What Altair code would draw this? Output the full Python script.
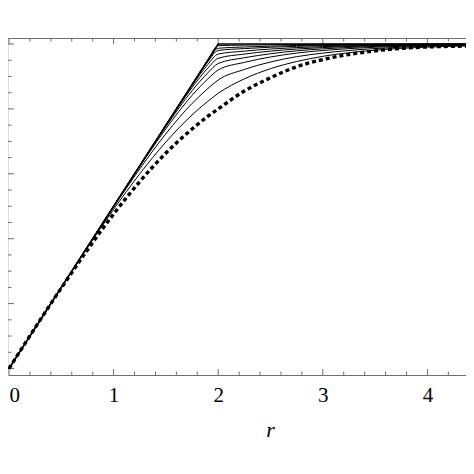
import altair as alt
import pandas as pd

# ---- data ----
r_grid = [0, 0.5, 1, 1.25, 1.5, 1.75, 1.9, 2, 2.25, 2.5, 2.75, 3, 3.5, 4, 4.5]

thin_1 = [0, .25, .5, .625, .75, .875, .95, .995, .9965, .9975, .9985, .999, .9995, 1, 1]
thin_2 = [0, .25, .5, .625, .75, .875, .948, .987, .9908, .9935, .9954, .9968, .9984, .9992, .9996]
thin_3 = [0, .25, .5, .625, .75, .8744, .9444, .98, .9859, .990, .9929, .995, .9975, .9988, .9994]
thin_4 = [0, .25, .5, .625, .7498, .8717, .9363, .969, .978, .9845, .989, .992, .996, .998, .999]
thin_5 = [0, .25, .5, .625, .7487, .8659, .9253, .956, .969, .978, .9845, .989, .9945, .9973, .9986]
thin_6 = [0, .25, .5, .6242, .7456, .8561, .9108, .94, .9576, .97, .979, .985, .9925, .996, .998]
thin_7 = [0, .25, .4995, .6221, .7388, .8417, .8922, .92, .9434, .96, .972, .98, .99, .995, .9975]
thin_8 = [0, .25, .4971, .6151, .7234, .8168, .8625, .889, .9215, .9445, .961, .972, .986, .993, .9965]
thin_9 = [0, .2495, .4902, .5999, .698, .7813, .8232, .848, .8925, .924, .946, .962, .981, .9905, .995]
dashed_y = [0, .248, .476, .576, .664, .738, .777, .80, .855, .896, .93, .952, .979, .991, .994]

sharp_r = [0, 2, 4.5]
sharp_y = [0, 1, 1]

x_major = [0, 1, 2, 3, 4]
x_minor = [0.2, 0.4, 0.6, 0.8, 1.2, 1.4, 1.6, 1.8, 2.2, 2.4, 2.6, 2.8,
           3.2, 3.4, 3.6, 3.8, 4.2, 4.4]
y_major = [0, 0.2, 0.4, 0.6, 0.8, 1.0]
y_minor = [0.05, 0.1, 0.15, 0.25, 0.3, 0.35, 0.45, 0.5, 0.55, 0.65, 0.7, 0.75,
           0.85, 0.9, 0.95]

# ---- tables ----
thin_sets = [thin_1, thin_2, thin_3, thin_4, thin_5, thin_6, thin_7, thin_8, thin_9]
thin_df = pd.DataFrame([
    {"r": r, "y": y, "curve": f"c{i}"}
    for i, ys_ in enumerate(thin_sets) for r, y in zip(r_grid, ys_)
])
dash_df = pd.DataFrame({"r": r_grid, "y": dashed_y})
sharp_df = pd.DataFrame({"r": sharp_r, "y": sharp_y})
xmaj_df = pd.DataFrame({"v": x_major})
xmin_df = pd.DataFrame({"v": x_minor})
ymaj_df = pd.DataFrame({"v": y_major})
ymin_df = pd.DataFrame({"v": y_minor})

W, H = 458, 337
FRAME = "#6e6e6e"
SERIF = "Liberation Serif"

xs = alt.Scale(domain=[-0.0096, 4.369], nice=False, zero=False)
ys = alt.Scale(domain=[-0.02, 1.0185], nice=False, zero=False)

bottom_axis = alt.Axis(
    orient="bottom", values=x_major, format="d", ticks=False, tickSize=0,
    domain=True, domainColor=FRAME, domainWidth=1, grid=False,
    labelFont=SERIF, labelFontSize=21, labelColor="black",
    labelBaseline="alphabetic", labelPadding=26, labelFlush=3,
    title="r", titleFont=SERIF, titleFontSize=22, titleFontStyle="italic",
    titleFontWeight="normal", titleColor="black", titleX=262, titleY=61,
    titleBaseline="alphabetic", titleAlign="center",
)
top_axis = alt.Axis(
    orient="top", labels=False, ticks=False, tickSize=0, domain=True,
    domainColor=FRAME, domainWidth=1, grid=False, title=None,
)

sharp = alt.Chart(sharp_df).mark_line(color="black", strokeWidth=1.6, clip=True).encode(
    x=alt.X("r:Q", scale=xs, axis=bottom_axis),
    y=alt.Y("y:Q", scale=ys, axis=None),
)
thin = alt.Chart(thin_df).mark_line(color="black", strokeWidth=1.0, interpolate="monotone", clip=True).encode(
    x=alt.X("r:Q", scale=xs, axis=None),
    y=alt.Y("y:Q", scale=ys, axis=None),
    detail="curve:N",
)
dashed = alt.Chart(dash_df).mark_line(color="black", strokeWidth=3.4, strokeDash=[4, 3],
                                      interpolate="monotone", clip=True).encode(
    x=alt.X("r:Q", scale=xs, axis=None),
    y=alt.Y("y:Q", scale=ys, axis=None),
)

def xticks(df, y0, y1, axis=None):
    return alt.Chart(df).mark_rule(color=FRAME, strokeWidth=1).encode(
        x=alt.X("v:Q", scale=xs, axis=axis),
        y=alt.value(y0), y2=alt.value(y1),
    )

def yticks(df, length):
    return alt.Chart(df).mark_rule(color=FRAME, strokeWidth=1).encode(
        y=alt.Y("v:Q", scale=ys, axis=None),
        x=alt.value(0), x2=alt.value(length),
    )

layers = [
    xticks(xmaj_df, 0, 6, axis=top_axis),
    xticks(xmin_df, 0, 3.5),
    xticks(xmaj_df, H, H - 6),
    xticks(xmin_df, H, H - 3.5),
    yticks(ymaj_df, 6),
    yticks(ymin_df, 3.5),
    thin,
    dashed,
    sharp,
]

chart = alt.layer(*layers).resolve_axis(x="independent").properties(
    width=W, height=H,
    autosize=alt.AutoSizeParams(type="none"),
    padding={"left": 0, "top": 30, "right": 0, "bottom": 70},
).configure_view(stroke=None).configure(background="white")

chart.save("out.html", embed_options={"renderer": "svg", "actions": False})
